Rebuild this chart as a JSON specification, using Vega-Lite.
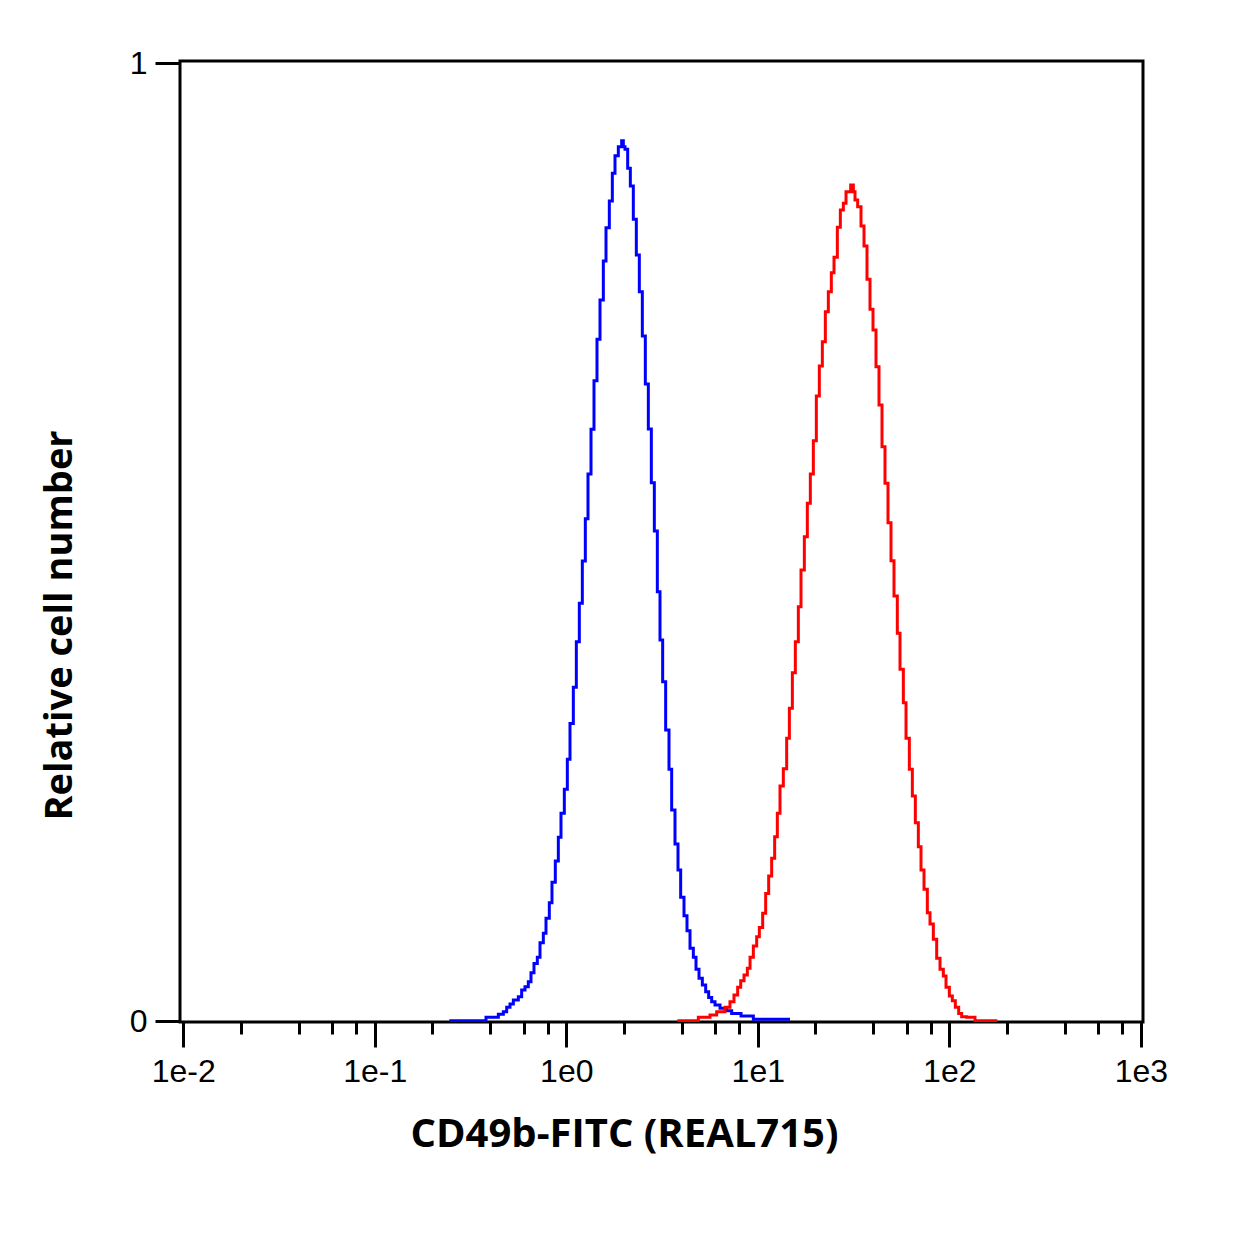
{
  "$schema": "https://vega.github.io/schema/vega-lite/v6.json",
  "width": 963,
  "height": 961,
  "autosize": {"type": "none"},
  "padding": {"left": 180, "top": 61, "right": 107, "bottom": 228},
  "background": "white",
  "config": {
    "view": {"stroke": "black", "strokeWidth": 3},
    "axis": {"grid": false, "domain": false, "tickColor": "black", "tickWidth": 3, "labelColor": "black", "titleColor": "black"}
  },
  "data": {
    "values": [
      {"sample": "control", "intensity": 0.2449, "count": 0.0003},
      {"sample": "control", "intensity": 0.3808, "count": 0.0039},
      {"sample": "control", "intensity": 0.4417, "count": 0.0070},
      {"sample": "control", "intensity": 0.4691, "count": 0.0097},
      {"sample": "control", "intensity": 0.4883, "count": 0.0143},
      {"sample": "control", "intensity": 0.5082, "count": 0.0178},
      {"sample": "control", "intensity": 0.5290, "count": 0.0219},
      {"sample": "control", "intensity": 0.5617, "count": 0.0254},
      {"sample": "control", "intensity": 0.5846, "count": 0.0324},
      {"sample": "control", "intensity": 0.6085, "count": 0.0358},
      {"sample": "control", "intensity": 0.6333, "count": 0.0410},
      {"sample": "control", "intensity": 0.6541, "count": 0.0504},
      {"sample": "control", "intensity": 0.6780, "count": 0.0602},
      {"sample": "control", "intensity": 0.7058, "count": 0.0665},
      {"sample": "control", "intensity": 0.7289, "count": 0.0818},
      {"sample": "control", "intensity": 0.7587, "count": 0.0916},
      {"sample": "control", "intensity": 0.7834, "count": 0.1072},
      {"sample": "control", "intensity": 0.8153, "count": 0.1235},
      {"sample": "control", "intensity": 0.8418, "count": 0.1448},
      {"sample": "control", "intensity": 0.8763, "count": 0.1671},
      {"sample": "control", "intensity": 0.9086, "count": 0.1918},
      {"sample": "control", "intensity": 0.9382, "count": 0.2169},
      {"sample": "control", "intensity": 0.9766, "count": 0.2419},
      {"sample": "control", "intensity": 1.0125, "count": 0.2733},
      {"sample": "control", "intensity": 1.0454, "count": 0.3108},
      {"sample": "control", "intensity": 1.0882, "count": 0.3484},
      {"sample": "control", "intensity": 1.1282, "count": 0.3961},
      {"sample": "control", "intensity": 1.1695, "count": 0.4362},
      {"sample": "control", "intensity": 1.2125, "count": 0.4803},
      {"sample": "control", "intensity": 1.2571, "count": 0.5245},
      {"sample": "control", "intensity": 1.2980, "count": 0.5712},
      {"sample": "control", "intensity": 1.3459, "count": 0.6178},
      {"sample": "control", "intensity": 1.3951, "count": 0.6686},
      {"sample": "control", "intensity": 1.4464, "count": 0.7118},
      {"sample": "control", "intensity": 1.4997, "count": 0.7528},
      {"sample": "control", "intensity": 1.5610, "count": 0.7936},
      {"sample": "control", "intensity": 1.6118, "count": 0.8283},
      {"sample": "control", "intensity": 1.6776, "count": 0.8562},
      {"sample": "control", "intensity": 1.7393, "count": 0.8851},
      {"sample": "control", "intensity": 1.7959, "count": 0.9035},
      {"sample": "control", "intensity": 1.8693, "count": 0.9129},
      {"sample": "control", "intensity": 1.9458, "count": 0.9192},
      {"sample": "control", "intensity": 1.9852, "count": 0.9129},
      {"sample": "control", "intensity": 2.0254, "count": 0.9102},
      {"sample": "control", "intensity": 2.0917, "count": 0.8904},
      {"sample": "control", "intensity": 2.1598, "count": 0.8719},
      {"sample": "control", "intensity": 2.2387, "count": 0.8371},
      {"sample": "control", "intensity": 2.3210, "count": 0.7998},
      {"sample": "control", "intensity": 2.4063, "count": 0.7615},
      {"sample": "control", "intensity": 2.4946, "count": 0.7153},
      {"sample": "control", "intensity": 2.5862, "count": 0.6651},
      {"sample": "control", "intensity": 2.6813, "count": 0.6181},
      {"sample": "control", "intensity": 2.7797, "count": 0.5621},
      {"sample": "control", "intensity": 2.8819, "count": 0.5116},
      {"sample": "control", "intensity": 2.9878, "count": 0.4483},
      {"sample": "control", "intensity": 3.0851, "count": 0.3978},
      {"sample": "control", "intensity": 3.1855, "count": 0.3543},
      {"sample": "control", "intensity": 3.3027, "count": 0.3039},
      {"sample": "control", "intensity": 3.4377, "count": 0.2628},
      {"sample": "control", "intensity": 3.5495, "count": 0.2203},
      {"sample": "control", "intensity": 3.6946, "count": 0.1848},
      {"sample": "control", "intensity": 3.8306, "count": 0.1577},
      {"sample": "control", "intensity": 3.9553, "count": 0.1292},
      {"sample": "control", "intensity": 4.1170, "count": 0.1100},
      {"sample": "control", "intensity": 4.2685, "count": 0.0943},
      {"sample": "control", "intensity": 4.4259, "count": 0.0759},
      {"sample": "control", "intensity": 4.6070, "count": 0.0665},
      {"sample": "control", "intensity": 4.7568, "count": 0.0540},
      {"sample": "control", "intensity": 4.9317, "count": 0.0446},
      {"sample": "control", "intensity": 5.1333, "count": 0.0376},
      {"sample": "control", "intensity": 5.3434, "count": 0.0306},
      {"sample": "control", "intensity": 5.5389, "count": 0.0247},
      {"sample": "control", "intensity": 5.7425, "count": 0.0202},
      {"sample": "control", "intensity": 5.9775, "count": 0.0167},
      {"sample": "control", "intensity": 6.3475, "count": 0.0133},
      {"sample": "control", "intensity": 6.8771, "count": 0.0108},
      {"sample": "control", "intensity": 7.3035, "count": 0.0080},
      {"sample": "control", "intensity": 8.1734, "count": 0.0052},
      {"sample": "control", "intensity": 9.4778, "count": 0.0018},
      {"sample": "control", "intensity": 14.731, "count": 0.0018},
      {"sample": "stained", "intensity": 3.8000, "count": 0.0003},
      {"sample": "stained", "intensity": 4.8911, "count": 0.0039},
      {"sample": "stained", "intensity": 5.6289, "count": 0.0063},
      {"sample": "stained", "intensity": 6.0985, "count": 0.0097},
      {"sample": "stained", "intensity": 6.7409, "count": 0.0143},
      {"sample": "stained", "intensity": 7.1569, "count": 0.0202},
      {"sample": "stained", "intensity": 7.5099, "count": 0.0271},
      {"sample": "stained", "intensity": 7.8494, "count": 0.0352},
      {"sample": "stained", "intensity": 8.1414, "count": 0.0421},
      {"sample": "stained", "intensity": 8.4724, "count": 0.0480},
      {"sample": "stained", "intensity": 8.8189, "count": 0.0550},
      {"sample": "stained", "intensity": 9.1080, "count": 0.0665},
      {"sample": "stained", "intensity": 9.4778, "count": 0.0783},
      {"sample": "stained", "intensity": 9.8650, "count": 0.0880},
      {"sample": "stained", "intensity": 10.186, "count": 0.0978},
      {"sample": "stained", "intensity": 10.602, "count": 0.1125},
      {"sample": "stained", "intensity": 10.992, "count": 0.1333},
      {"sample": "stained", "intensity": 11.396, "count": 0.1514},
      {"sample": "stained", "intensity": 11.813, "count": 0.1699},
      {"sample": "stained", "intensity": 12.247, "count": 0.1924},
      {"sample": "stained", "intensity": 12.647, "count": 0.2169},
      {"sample": "stained", "intensity": 13.058, "count": 0.2454},
      {"sample": "stained", "intensity": 13.592, "count": 0.2634},
      {"sample": "stained", "intensity": 14.150, "count": 0.2952},
      {"sample": "stained", "intensity": 14.616, "count": 0.3265},
      {"sample": "stained", "intensity": 15.150, "count": 0.3637},
      {"sample": "stained", "intensity": 15.704, "count": 0.3961},
      {"sample": "stained", "intensity": 16.281, "count": 0.4326},
      {"sample": "stained", "intensity": 16.811, "count": 0.4709},
      {"sample": "stained", "intensity": 17.498, "count": 0.5057},
      {"sample": "stained", "intensity": 18.139, "count": 0.5406},
      {"sample": "stained", "intensity": 18.805, "count": 0.5712},
      {"sample": "stained", "intensity": 19.498, "count": 0.6059},
      {"sample": "stained", "intensity": 20.213, "count": 0.6526},
      {"sample": "stained", "intensity": 20.953, "count": 0.6839},
      {"sample": "stained", "intensity": 21.727, "count": 0.7093},
      {"sample": "stained", "intensity": 22.525, "count": 0.7406},
      {"sample": "stained", "intensity": 23.350, "count": 0.7615},
      {"sample": "stained", "intensity": 24.210, "count": 0.7814},
      {"sample": "stained", "intensity": 25.000, "count": 0.7974},
      {"sample": "stained", "intensity": 26.020, "count": 0.8288},
      {"sample": "stained", "intensity": 26.977, "count": 0.8468},
      {"sample": "stained", "intensity": 27.966, "count": 0.8538},
      {"sample": "stained", "intensity": 28.882, "count": 0.8659},
      {"sample": "stained", "intensity": 30.549, "count": 0.8729},
      {"sample": "stained", "intensity": 31.543, "count": 0.8659},
      {"sample": "stained", "intensity": 32.181, "count": 0.8573},
      {"sample": "stained", "intensity": 33.227, "count": 0.8503},
      {"sample": "stained", "intensity": 34.585, "count": 0.8301},
      {"sample": "stained", "intensity": 35.856, "count": 0.8092},
      {"sample": "stained", "intensity": 37.170, "count": 0.7745},
      {"sample": "stained", "intensity": 38.537, "count": 0.7431},
      {"sample": "stained", "intensity": 39.954, "count": 0.7215},
      {"sample": "stained", "intensity": 41.418, "count": 0.6832},
      {"sample": "stained", "intensity": 42.941, "count": 0.6432},
      {"sample": "stained", "intensity": 44.519, "count": 0.5997},
      {"sample": "stained", "intensity": 46.150, "count": 0.5615},
      {"sample": "stained", "intensity": 47.847, "count": 0.5203},
      {"sample": "stained", "intensity": 49.606, "count": 0.4806},
      {"sample": "stained", "intensity": 51.424, "count": 0.4438},
      {"sample": "stained", "intensity": 53.524, "count": 0.4048},
      {"sample": "stained", "intensity": 55.279, "count": 0.3672},
      {"sample": "stained", "intensity": 57.544, "count": 0.3324},
      {"sample": "stained", "intensity": 59.418, "count": 0.2952},
      {"sample": "stained", "intensity": 61.844, "count": 0.2628},
      {"sample": "stained", "intensity": 64.121, "count": 0.2349},
      {"sample": "stained", "intensity": 66.467, "count": 0.2071},
      {"sample": "stained", "intensity": 68.912, "count": 0.1820},
      {"sample": "stained", "intensity": 71.154, "count": 0.1577},
      {"sample": "stained", "intensity": 73.774, "count": 0.1375},
      {"sample": "stained", "intensity": 76.789, "count": 0.1131},
      {"sample": "stained", "intensity": 79.288, "count": 0.1013},
      {"sample": "stained", "intensity": 82.530, "count": 0.0853},
      {"sample": "stained", "intensity": 85.920, "count": 0.0655},
      {"sample": "stained", "intensity": 89.422, "count": 0.0540},
      {"sample": "stained", "intensity": 93.074, "count": 0.0470},
      {"sample": "stained", "intensity": 96.117, "count": 0.0352},
      {"sample": "stained", "intensity": 100.05, "count": 0.0261},
      {"sample": "stained", "intensity": 103.70, "count": 0.0212},
      {"sample": "stained", "intensity": 107.52, "count": 0.0143},
      {"sample": "stained", "intensity": 111.92, "count": 0.0080},
      {"sample": "stained", "intensity": 116.04, "count": 0.0045},
      {"sample": "stained", "intensity": 123.21, "count": 0.0039},
      {"sample": "stained", "intensity": 136.18, "count": 0.0003},
      {"sample": "stained", "intensity": 178.17, "count": 0.0003}
    ]
  },
  "mark": {"type": "line", "interpolate": "step-after", "strokeWidth": 3, "clip": true},
  "encoding": {
    "x": {
      "field": "intensity",
      "type": "quantitative",
      "scale": {"type": "log", "domain": [0.009612, 1026.6], "nice": false, "zero": false},
      "axis": {
        "values": [0.01, 0.02, 0.04, 0.06, 0.08, 0.1, 0.2, 0.4, 0.6, 0.8, 1, 2, 4, 6, 8, 10, 20, 40, 60, 80, 100, 200, 400, 600, 800, 1000],
        "tickSize": {"condition": {"test": "abs(log(datum.value)/LN10 - round(log(datum.value)/LN10)) < 0.001", "value": 25}, "value": 12},
        "labelExpr": "abs(log(datum.value)/LN10 - round(log(datum.value)/LN10)) < 0.001 ? '1e' + round(log(datum.value)/LN10) : ''",
        "labelFont": "Liberation Sans",
        "labelFontSize": 32,
        "labelPadding": 9,
        "labelBaseline": "top",
        "labelOverlap": false,
        "labelFlush": false,
        "labelBound": false,
        "title": "CD49b-FITC (REAL715)",
        "titleFont": "Open Sans",
        "titleFontWeight": "bold",
        "titleFontSize": 40,
        "titleX": 444,
        "titleY": 124,
        "titleAlign": "center",
        "titleBaseline": "alphabetic"
      }
    },
    "y": {
      "field": "count",
      "type": "quantitative",
      "scale": {"domain": [-0.001, 1.0024], "nice": false, "zero": false},
      "axis": {
        "values": [0, 1],
        "format": "d",
        "tickSize": 25,
        "labelFont": "Liberation Sans",
        "labelFontSize": 32,
        "labelPadding": 8,
        "labelBaseline": "middle",
        "labelFlush": false,
        "labelBound": false,
        "title": "Relative cell number",
        "titleFont": "Open Sans",
        "titleFontWeight": "bold",
        "titleFontSize": 38,
        "titleX": -109,
        "titleY": 564,
        "titleAngle": -90,
        "titleAlign": "center",
        "titleBaseline": "alphabetic"
      }
    },
    "color": {
      "field": "sample",
      "type": "nominal",
      "scale": {"domain": ["control", "stained"], "range": ["#0000ff", "#ff0000"]},
      "legend": null
    }
  }
}
